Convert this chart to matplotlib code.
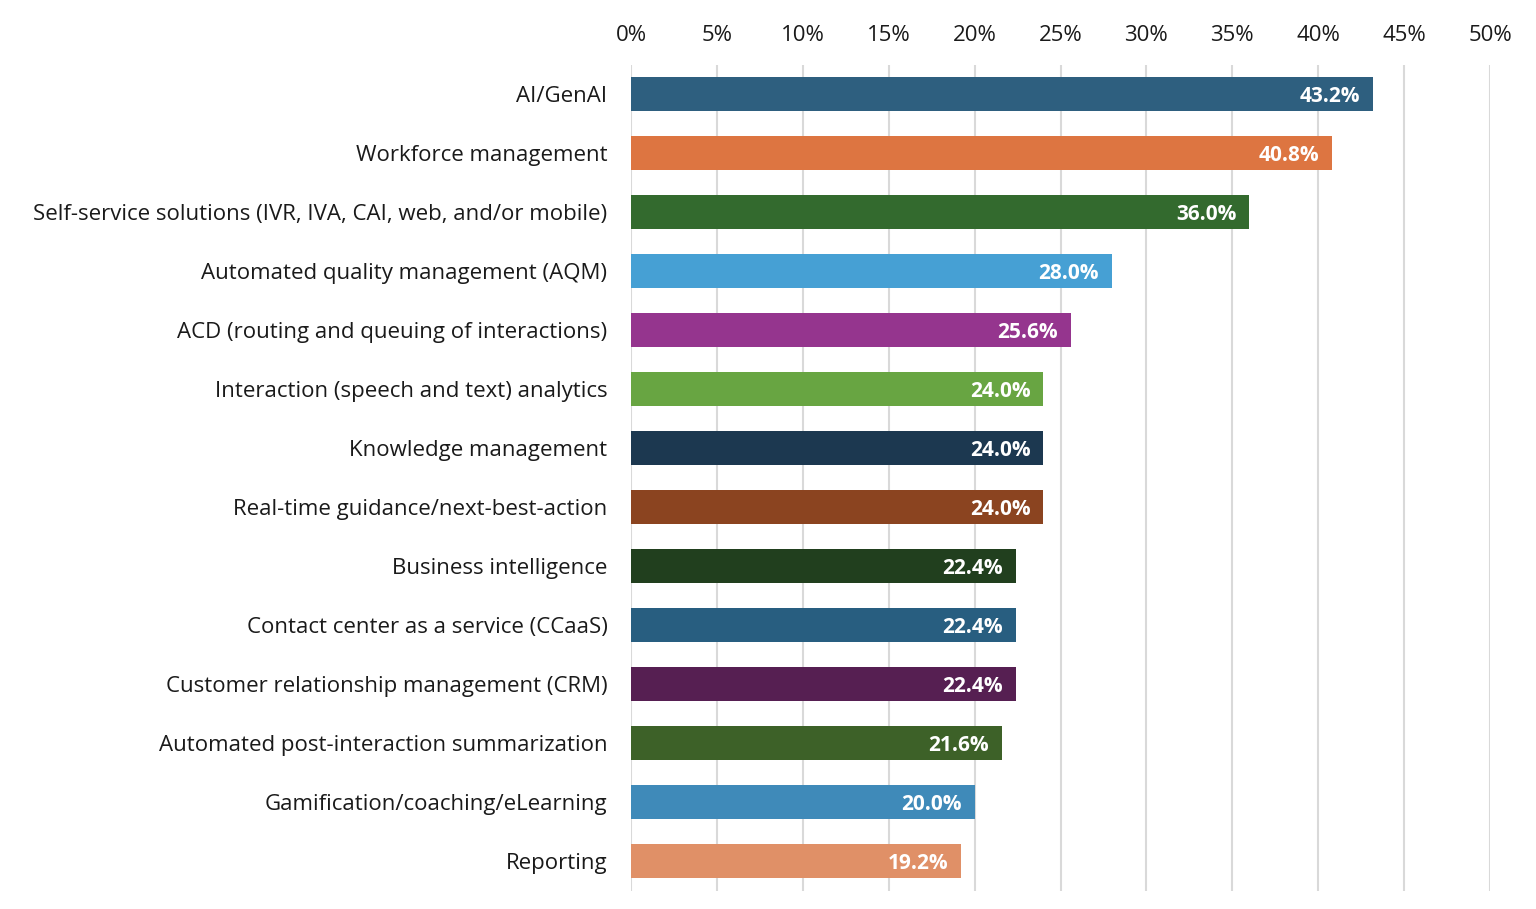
import matplotlib.pyplot as plt
from matplotlib.ticker import PercentFormatter

categories = [
    "AI/GenAI",
    "Workforce management",
    "Self-service solutions (IVR, IVA, CAI, web, and/or mobile)",
    "Automated quality management (AQM)",
    "ACD (routing and queuing of interactions)",
    "Interaction (speech and text) analytics",
    "Knowledge management",
    "Real-time guidance/next-best-action",
    "Business intelligence",
    "Contact center as a service (CCaaS)",
    "Customer relationship management (CRM)",
    "Automated post-interaction summarization",
    "Gamification/coaching/eLearning",
    "Reporting",
]
values = [43.2, 40.8, 36.0, 28.0, 25.6, 24.0, 24.0, 24.0, 22.4, 22.4, 22.4, 21.6, 20.0, 19.2]
colors = [
    "#2E5F7F", "#DD7541", "#336A2E", "#46A0D4", "#95358E", "#68A542", "#1C3850",
    "#8B4420", "#213F1E", "#285E80", "#561F52", "#3D6128", "#3F8AB9", "#E09067",
]
xticks = list(range(0, 55, 5))

plt.rcParams['font.family'] = ['Open Sans', 'DejaVu Sans']

fig = plt.figure(figsize=(15.36, 9.09), dpi=100)
ax = fig.add_axes([631 / 1536, 1 - 890.5 / 909, (1490 - 631) / 1536, 826 / 909])

y = list(range(len(categories)))
bars = ax.barh(y, values, height=0.58, color=colors, zorder=3)

for bar, v in zip(bars, values):
    ax.text(bar.get_width() - 0.75, bar.get_y() + bar.get_height() / 2, f"{v:.1f}%",
            ha='right', va='center_baseline', color='white', fontsize=15, fontweight='bold', zorder=4)

ax.set_xlim(0, 50)
ax.set_ylim(len(categories) - 0.5, -0.5)
ax.set_yticks(y)
ax.set_yticklabels(categories, fontsize=16, color='#1a1a1a')
ax.set_xticks(xticks)
ax.xaxis.set_major_formatter(PercentFormatter(decimals=0))
ax.xaxis.tick_top()
ax.tick_params(axis='x', length=0, pad=13, labelsize=16, labelcolor='#1a1a1a')
ax.tick_params(axis='y', length=0, pad=17)
ax.grid(axis='x', color='#d9d9d9', linewidth=1.5, zorder=0)
for s in ax.spines.values():
    s.set_visible(False)

fig.savefig("out.png", dpi=100, facecolor='white')
